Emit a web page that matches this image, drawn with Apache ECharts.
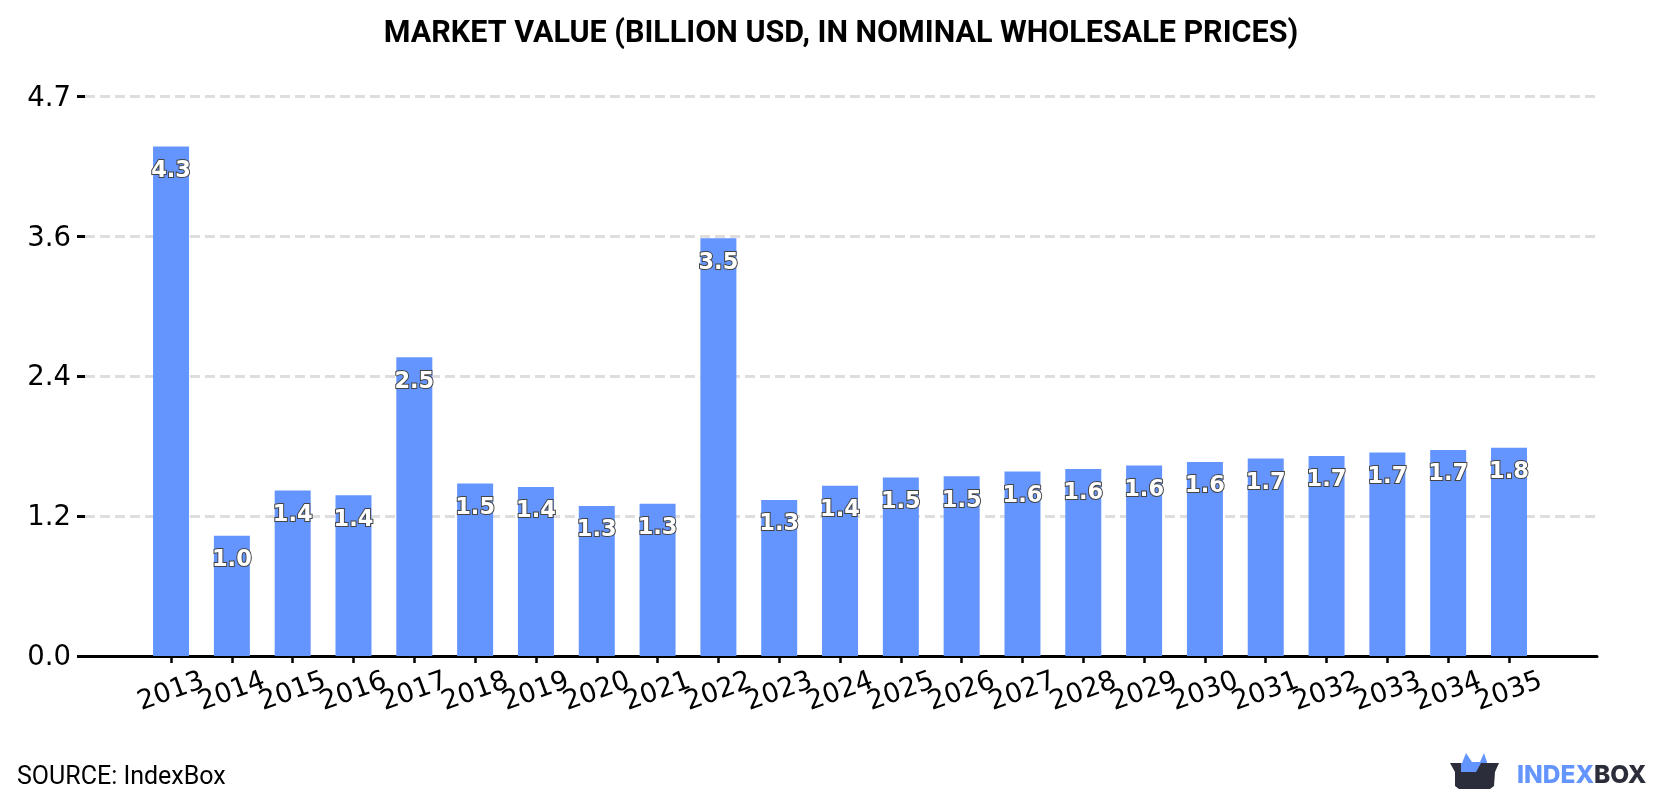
<!DOCTYPE html>
<html>
<head>
<meta charset="utf-8">
<style>html,body{margin:0;padding:0;background:#fff}#c{width:1680px;height:800px}</style>
<script src="https://cdn.jsdelivr.net/npm/echarts@6/dist/echarts.min.js"></script>
</head>
<body>
<div id="c"></div>
<script>
// Market value by year, billion USD
const years = [2013,2014,2015,2016,2017,2018,2019,2020,2021,2022,2023,2024,2025,2026,2027,2028,2029,2030,2031,2032,2033,2034,2035];
const values = [4.28,1.01,1.39,1.35,2.51,1.45,1.42,1.26,1.28,3.51,1.31,1.43,1.50,1.51,1.55,1.57,1.60,1.63,1.66,1.68,1.71,1.73,1.75];
const yTickLabels = ['0.0','1.2','2.4','3.6','4.7'];
const yMax = 4.7;
const yStep = 1.175;
const xMin = 2011.585;
const xMax = 2036.447;

const blue = '#6495ff';
const dark = '#2b2d3a';
const chart = echarts.init(document.getElementById('c'));

chart.setOption({
  animation: false,
  backgroundColor: '#fff',
  title: {
    text: 'MARKET VALUE (BILLION USD, IN NOMINAL WHOLESALE PRICES)',
    left: 836, top: 14, textAlign: 'center',
    textStyle: {fontFamily: 'Roboto', fontWeight: 700, fontSize: 30.5, color: '#000'}
  },
  grid: {left: 85, right: 83, top: 96.5, bottom: 144},
  xAxis: {
    type: 'value',
    min: xMin, max: xMax,
    splitLine: {show: false},
    axisLine: {lineStyle: {color: '#000', width: 3}},
    axisTick: {customValues: years, length: 7, lineStyle: {color: '#000', width: 2.5}},
    axisLabel: {
      // blank labels at both ends keep the year labels clear of the end-label overlap rule
      customValues: [xMin, ...years, xMax],
      hideOverlap: false,
      rotate: 20, align: 'center', verticalAlign: 'middle',
      fontFamily: 'DejaVu Sans', fontSize: 27, color: '#000', margin: 36,
      formatter: v => (Number.isInteger(v) ? String(v) : ' ')
    }
  },
  yAxis: {
    type: 'value', min: 0, max: yMax, interval: yStep,
    axisLine: {show: false},
    axisTick: {show: true, length: 8, lineStyle: {color: '#000', width: 3}},
    axisLabel: {
      fontFamily: 'DejaVu Sans', fontSize: 27.5, color: '#000', margin: 14,
      verticalAlign: 'top', lineHeight: 4,
      formatter: (v, i) => yTickLabels[i]
    },
    splitLine: {lineStyle: {color: '#dedede', width: 3, type: [10, 5]}}
  },
  series: [{
    type: 'bar',
    barWidth: 36,
    data: years.map((y, i) => [y, values[i]]),
    itemStyle: {color: blue},
    label: {
      show: true, position: 'insideTop', distance: 13,
      fontFamily: 'DejaVu Sans', fontWeight: 700, fontSize: 22.5, color: '#fff',
      textBorderColor: '#444', textBorderWidth: 2,
      formatter: p => (Math.round(p.value[1] * 10) / 10).toFixed(1)
    }
  }],
  graphic: [
    {type: 'text', left: 17, top: 765, style: {text: 'SOURCE: IndexBox', font: '25px Roboto', fill: '#000'}},
    {type: 'polygon', shape: {points: [[1462,763],[1466,753],[1472,762],[1480,762],[1484,753],[1487,762],[1487,767],[1462,767]]}, style: {fill: blue}},
    {type: 'polygon', shape: {points: [[1450,763],[1499,763],[1495,772],[1494,786],[1490,789],[1459,789],[1455,786],[1455,772]]}, style: {fill: dark}},
    {type: 'polygon', shape: {points: [[1461,763],[1481,763],[1476,772],[1461,772]]}, style: {fill: blue}},
    {type: 'text', left: 1517, top: 763, style: {
      text: '{a|INDEX}{b|BOX}',
      rich: {
        a: {fill: blue, fontFamily: 'Inter', fontWeight: 800, fontSize: 24.5},
        b: {fill: dark, fontFamily: 'Inter', fontWeight: 800, fontSize: 24.5}
      }
    }}
  ]
});
</script>
</body>
</html>
